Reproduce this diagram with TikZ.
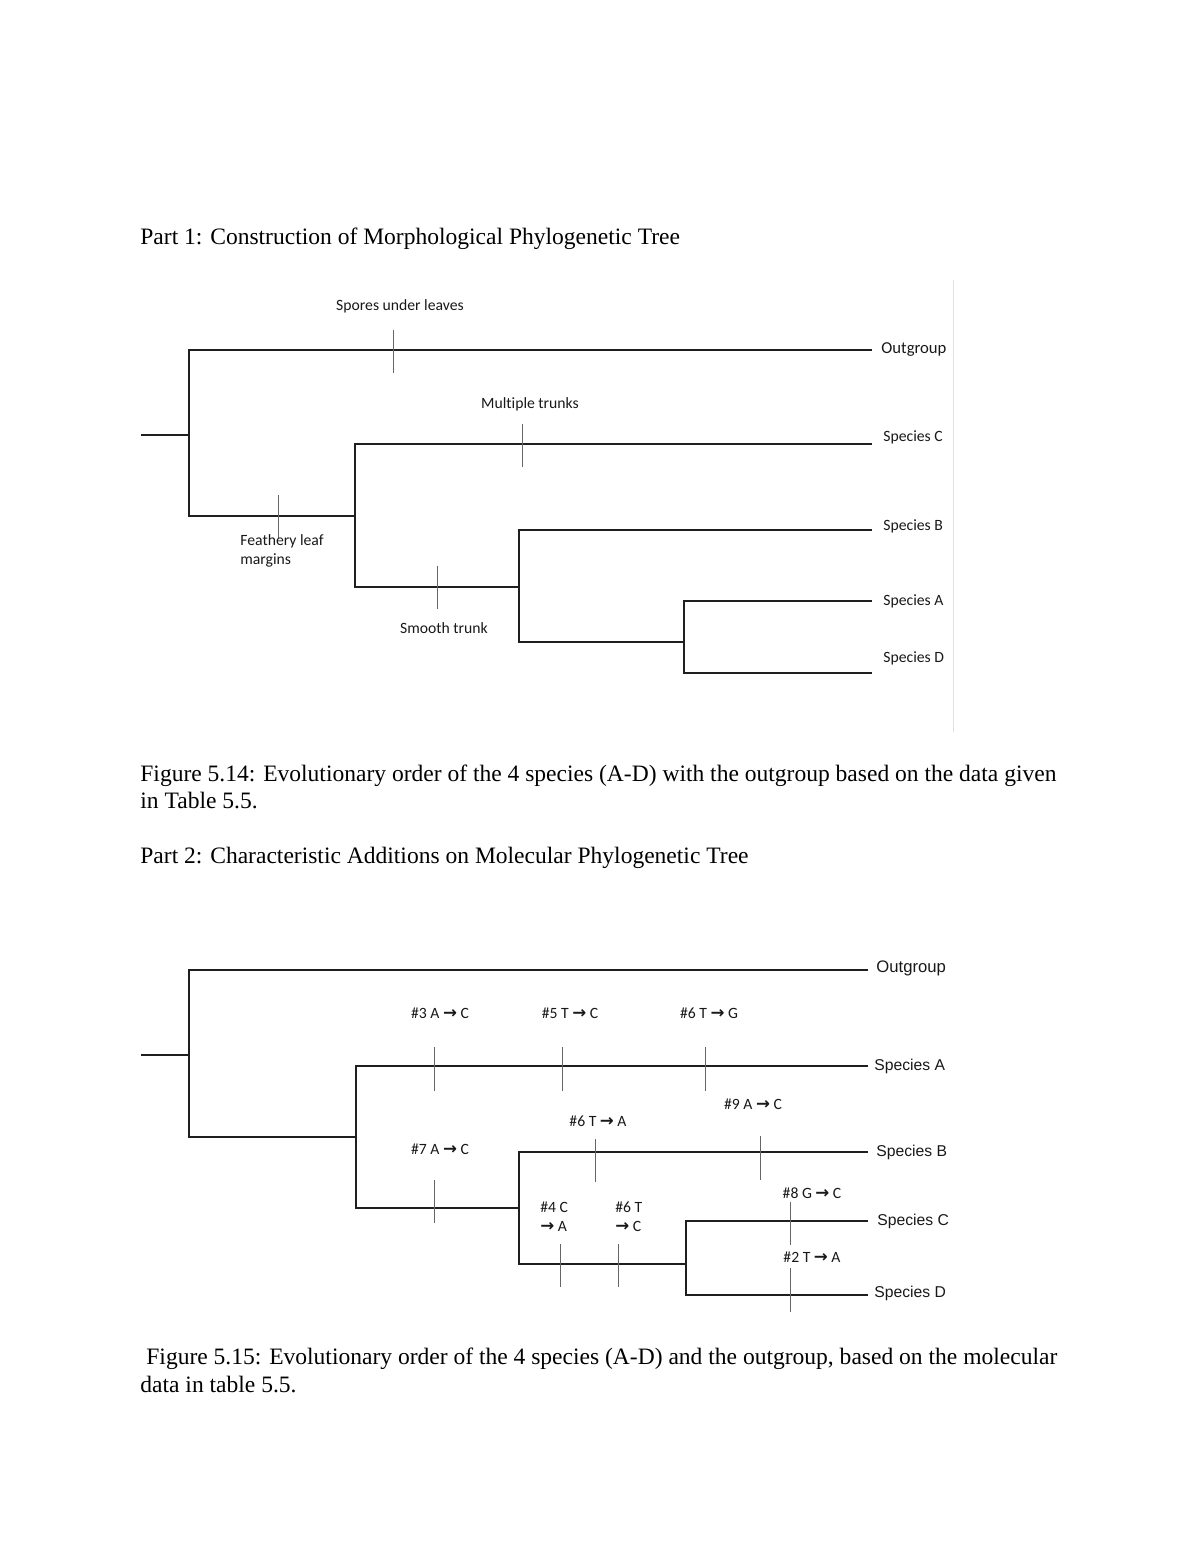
\documentclass[tikz,border=0pt]{standalone}
\usepackage{fontspec}
\setmainfont{Liberation Serif}
\newfontfamily\calfont[Ligatures=NoCommon]{Carlito}
\newfontfamily\arlfont{Liberation Sans}
\newfontfamily\arrfont{DejaVu Sans}
\newcommand\mto{{\arrfont\bfseries\fontsize{8.5}{9}\selectfont →}}

\tikzset{
  branch/.style={line width=1.4pt, black!88},
  tickmark/.style={line width=0.5pt, black!60},
  capline/.style={anchor=base west, inner sep=0pt, font=\fontsize{12}{13.8}\selectfont},
  trait/.style={inner sep=0pt, font=\calfont\fontsize{8}{9.6}\selectfont, text=black!90},
  leaf/.style={anchor=west, inner sep=0pt, font=\calfont\fontsize{8}{9.6}\selectfont, text=black!90},
  leaftwo/.style={anchor=west, inner sep=0pt, font=\arlfont\fontsize{8}{9.6}\selectfont, text=black!90}
}

\begin{document}
\begin{tikzpicture}[x=0.51pt, y=-0.51pt]
        \useasboundingbox[fill=white] (0,0) rectangle (1200,1553);

        % captions
        \node[capline] (part1) at (140,245) {Part 1: Construction of Morphological Phylogenetic Tree};
        \node[capline] (fig14a) at (140,781) {Figure 5.14: Evolutionary order of the 4 species (A-D) with the outgroup based on the data given};
        \node[capline] (fig14b) at (140,808) {in Table 5.5.};
        \node[capline] (part2) at (140,863) {Part 2: Characteristic Additions on Molecular Phylogenetic Tree};
        \node[capline] (fig15a) at (146,1364) {Figure 5.15: Evolutionary order of the 4 species (A-D) and the outgroup, based on the molecular};
        \node[capline] (fig15b) at (140,1392) {data in table 5.5.};

        % tree 1
        \draw[black!12, line width=0.4pt] (953,280) -- (953,732);
        \coordinate (root) at (141,435);
        \coordinate (n1) at (189,435);
        \coordinate (n2) at (355,516);
        \coordinate (n3) at (519,587);
        \coordinate (n4) at (684,642);
        \coordinate (og) at (872,350);
        \coordinate (sc) at (872,444);
        \coordinate (sb) at (872,530);
        \coordinate (sa) at (872,601);
        \coordinate (sd) at (872,673);

        \draw[branch] (root) -- (n1);
        \draw[branch] (og) -| (n1) |- (n2);
        \draw[branch] (sc) -| (n2) |- (n3);
        \draw[branch] (sb) -| (n3) |- (n4);
        \draw[branch] (sa) -| (n4) |- (sd);

        \node[leaf, font=\calfont\fontsize{8.5}{10}\selectfont] (ogl) at (881,350) {Outgroup};
        \node[leaf] (scl) at (883,437) {Species C};
        \node[leaf] (sbl) at (883,526) {Species B};
        \node[leaf] (sal) at (883,601) {Species A};
        \node[leaf] (sdl) at (883,658) {Species D};

        \draw[tickmark] (393,330) -- (393,373);
        \draw[tickmark] (522,424) -- (522,467);
        \draw[tickmark] (278,495) -- (278,538);
        \draw[tickmark] (437,566) -- (437,609);
        \node[trait] (spores) at (400,306) {Spores under leaves};
        \node[trait] (trunks) at (530,404) {Multiple trunks};
        \node[trait, anchor=west, align=left] (feather) at (240,551) {Feathery leaf\\margins};
        \node[trait] (smooth) at (444,628) {Smooth trunk};

        % tree 2
        \coordinate (root2) at (141,1055);
        \coordinate (m1) at (189,1055);
        \coordinate (m2) at (356,1137);
        \coordinate (m3) at (519,1208);
        \coordinate (m4) at (686,1264);
        \coordinate (og2) at (868,970);
        \coordinate (a2) at (868,1066);
        \coordinate (b2) at (868,1152);
        \coordinate (c2) at (868,1221);
        \coordinate (d2) at (868,1295);

        \draw[branch] (root2) -- (m1);
        \draw[branch] (og2) -| (m1) |- (m2);
        \draw[branch] (a2) -| (m2) |- (m3);
        \draw[branch] (b2) -| (m3) |- (m4);
        \draw[branch] (c2) -| (m4) |- (d2);

        \node[leaftwo, font=\arlfont\fontsize{8.5}{10}\selectfont] (og2l) at (876,968) {Outgroup};
        \node[leaftwo] (a2l) at (874,1066) {Species A};
        \node[leaftwo] (b2l) at (876,1152) {Species B};
        \node[leaftwo] (c2l) at (877,1221) {Species C};
        \node[leaftwo] (d2l) at (874,1293) {Species D};

        \draw[tickmark] (434,1047) -- (434,1091);
        \draw[tickmark] (562,1047) -- (562,1091);
        \draw[tickmark] (705,1047) -- (705,1091);
        \draw[tickmark] (434,1180) -- (434,1223);
        \draw[tickmark] (595,1139) -- (595,1182);
        \draw[tickmark] (760,1136) -- (760,1180);
        \draw[tickmark] (560,1244) -- (560,1287);
        \draw[tickmark] (618,1244) -- (618,1287);
        \draw[tickmark] (790,1202) -- (790,1245);
        \draw[tickmark] (790,1268) -- (790,1312);

        \node[trait] (m3ac) at (440,1013) {\#3 A \mto{} C};
        \node[trait] (m5tc) at (570,1013) {\#5 T \mto{} C};
        \node[trait] (m6tg) at (709,1013) {\#6 T \mto{} G};
        \node[trait] (m9ac) at (753,1104) {\#9 A \mto{} C};
        \node[trait] (m6ta) at (598,1121) {\#6 T \mto{} A};
        \node[trait] (m7ac) at (440,1149) {\#7 A \mto{} C};
        \node[trait] (m8gc) at (812,1193) {\#8 G \mto{} C};
        \node[trait] (m2ta) at (812,1257) {\#2 T \mto{} A};
        \node[trait, anchor=west, align=left] (m4ca) at (540,1217) {\#4 C\\\mto{} A};
        \node[trait, anchor=west, align=left] (m6tc) at (615,1217) {\#6 T\\\mto{} C};
    \end{tikzpicture}
\end{document}
